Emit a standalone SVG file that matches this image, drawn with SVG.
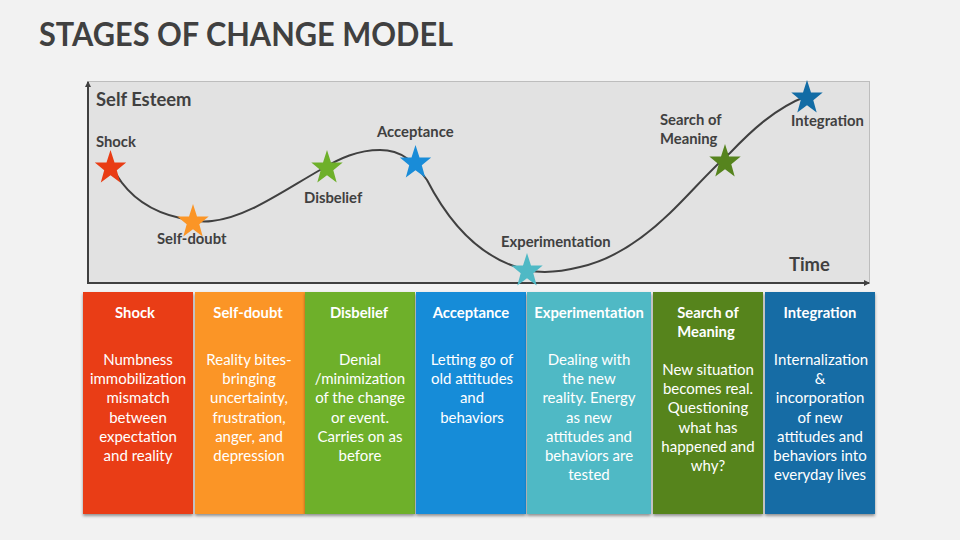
<svg xmlns="http://www.w3.org/2000/svg" width="960" height="540" viewBox="0 0 960 540">
<style>
text{font-family:"Lato","Carlito","Open Sans",sans-serif}
.title{font-size:32px;font-weight:700;fill:#404040}
.lab{font-size:14.8px;font-weight:700;fill:#404040}
.axis{font-size:18.4px;font-weight:700;fill:#404040}
.head{font-size:14.8px;font-weight:700;fill:#fff;text-anchor:middle}
.body{font-size:15px;fill:#fff;text-anchor:middle}
.card{filter:url(#sh)}
.curve{fill:none;stroke:#404040;stroke-width:2}
.ax{stroke:#404040;stroke-width:2;fill:none}
</style>
<defs>
<filter id="sh" x="-10%" y="-5%" width="120%" height="110%"><feDropShadow dx="0" dy="2" stdDeviation="1.5" flood-color="#000" flood-opacity="0.4"/></filter>
<polygon id="star" points="0,-18 4,-5.500 15.700,-5.500 6.300,2.300 9.700,14.500 0,7.200 -9.700,14.500 -6.300,2.300 -15.700,-5.500 -4,-5.500"/>
<marker id="arr" markerWidth="6" markerHeight="6" refX="5" refY="3" orient="auto" markerUnits="userSpaceOnUse"><path d="M0,0L6,3L0,6Z" fill="#404040"/></marker>
</defs>
<rect width="960" height="540" fill="#f2f2f2"/>
<text class="title" x="39" y="45.500" textLength="414" lengthAdjust="spacingAndGlyphs">STAGES OF CHANGE MODEL</text>
<rect x="87.500" y="81.500" width="782" height="202" fill="#e2e2e2" stroke="#bdbdbd" stroke-width="1"/>
<g id="connectors">
<path class="ax" d="M88 283V82" marker-end="url(#arr)"/>
<path class="ax" d="M87 283H869" marker-end="url(#arr)"/>
<path class="curve" d="M116 174C128 194 148 211 180 218C192 221 205 222 212 221C245 218 280 193 320 170C340 158 358 150 380 150C402 150 414 162 427 180C445 215 475 258 527 270C540 273 560 272 580 267C612 260 642 240 670 213C690 194 710 170 730 153C750 132 775 108 807 96"/>
</g>
<text class="axis" x="96" y="106">Self Esteem</text>
<text class="axis" x="789" y="271">Time</text>
<g id="star-shock"><use href="#star" x="110.500" y="168" fill="#e93c14"/><text class="lab" x="96" y="147">Shock</text></g>
<g id="star-selfdoubt"><use href="#star" x="193" y="222" fill="#fb9526"/><text class="lab" x="157" y="244">Self-doubt</text></g>
<g id="star-disbelief"><use href="#star" x="327" y="168" fill="#6eb02a"/><text class="lab" x="304" y="203">Disbelief</text></g>
<g id="star-acceptance"><use href="#star" x="415.500" y="163" fill="#198cd8"/><text class="lab" x="377" y="137">Acceptance</text></g>
<g id="star-experimentation"><use href="#star" x="527" y="271" fill="#4fb9c5"/><text class="lab" x="501" y="247">Experimentation</text></g>
<g id="star-search"><use href="#star" x="725" y="162" fill="#56841e"/><text class="lab" x="660" y="125">Search of</text><text class="lab" x="660" y="144">Meaning</text></g>
<g id="star-integration"><use href="#star" x="807" y="98" fill="#126ca5"/><text class="lab" x="791" y="126">Integration</text></g>
<g id="card-shock"><rect class="card" x="83" y="292" width="110" height="222" fill="#e93c14"/><text class="head" x="135" y="318">Shock</text>
<text class="body" x="138" y="365">Numbness</text><text class="body" x="138" y="384">immobilization</text><text class="body" x="138" y="403">mismatch</text><text class="body" x="138" y="423">between</text><text class="body" x="138" y="442">expectation</text><text class="body" x="138" y="461">and reality</text></g>
<g id="card-selfdoubt"><rect class="card" x="195" y="292" width="110" height="222" fill="#fb9526"/><text class="head" x="248" y="318">Self-doubt</text>
<text class="body" x="249" y="365">Reality bites-</text><text class="body" x="249" y="384">bringing</text><text class="body" x="249" y="403">uncertainty,</text><text class="body" x="249" y="423">frustration,</text><text class="body" x="249" y="442">anger, and</text><text class="body" x="249" y="461">depression</text></g>
<g id="card-disbelief"><rect class="card" x="305" y="292" width="110" height="222" fill="#6eb02a"/><text class="head" x="359" y="318">Disbelief</text>
<text class="body" x="360" y="365">Denial</text><text class="body" x="360" y="384">/minimization</text><text class="body" x="360" y="403">of the change</text><text class="body" x="360" y="423">or event.</text><text class="body" x="360" y="442">Carries on as</text><text class="body" x="360" y="461">before</text></g>
<g id="card-acceptance"><rect class="card" x="416" y="292" width="110" height="222" fill="#198cd8"/><text class="head" x="471" y="318">Acceptance</text>
<text class="body" x="472" y="365">Letting go of</text><text class="body" x="472" y="384">old attitudes</text><text class="body" x="472" y="403">and</text><text class="body" x="472" y="423">behaviors</text></g>
<g id="card-experimentation"><rect class="card" x="527" y="292" width="124" height="222" fill="#4fb9c5"/><text class="head" x="589" y="318">Experimentation</text>
<text class="body" x="589" y="365">Dealing with</text><text class="body" x="589" y="384">the new</text><text class="body" x="589" y="403">reality. Energy</text><text class="body" x="589" y="423">as new</text><text class="body" x="589" y="442">attitudes and</text><text class="body" x="589" y="461">behaviors are</text><text class="body" x="589" y="480">tested</text></g>
<g id="card-search"><rect class="card" x="653" y="292" width="110" height="222" fill="#56841e"/><text class="head" x="708" y="318">Search of</text><text class="head" x="706" y="337">Meaning</text>
<text class="body" x="708" y="375">New situation</text><text class="body" x="708" y="394">becomes real.</text><text class="body" x="708" y="413">Questioning</text><text class="body" x="708" y="433">what has</text><text class="body" x="708" y="452">happened and</text><text class="body" x="708" y="471">why?</text></g>
<g id="card-integration"><rect class="card" x="765" y="292" width="110" height="222" fill="#126ca5"/><text class="head" x="820" y="318">Integration</text>
<text class="body" x="821" y="365">Internalization</text><text class="body" x="820" y="384">&amp;</text><text class="body" x="820" y="403">incorporation</text><text class="body" x="820" y="423">of new</text><text class="body" x="820" y="442">attitudes and</text><text class="body" x="820" y="461">behaviors into</text><text class="body" x="820" y="480">everyday lives</text></g>
</svg>
